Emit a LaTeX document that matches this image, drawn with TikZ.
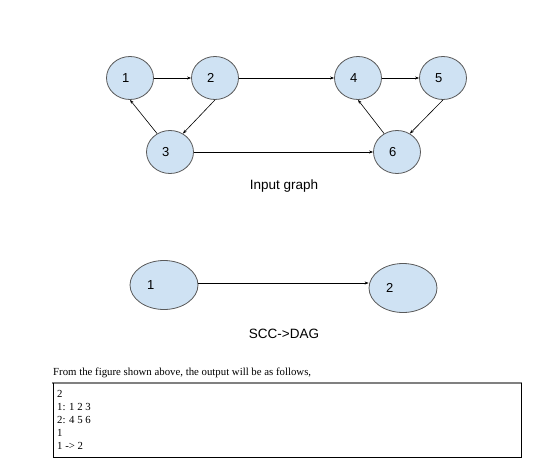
\documentclass[tikz,border=0pt]{standalone}
\usepackage{fontspec}
\setmainfont{Liberation Serif}
\setsansfont{Liberation Sans}
\usetikzlibrary{shapes.geometric,arrows.meta}
\definecolor{vertfill}{HTML}{CFE2F3}
\definecolor{vertline}{HTML}{595959}
\tikzset{
  vert/.style={ellipse, draw=vertline, fill=vertfill, line width=0.8pt, inner sep=0pt,
    minimum width=47pt, minimum height=43pt, text width=16pt, align=left,
    font=\sffamily\fontsize{13}{15}\selectfont},
  bigvert/.style={vert, minimum width=68pt, minimum height=49pt, text width=34pt},
  edge/.style={line width=0.6pt, -{Stealth[length=4pt,width=3pt]}},
  caption/.style={font=\sffamily\fontsize{13.5}{16}\selectfont}
}
\begin{document}
\begin{tikzpicture}[x=1pt, y=-1pt]
    \useasboundingbox (0,0) rectangle (560,474);
    % input graph
    \node[vert] (v1) at (130,78) {1};
    \node[vert] (v2) at (215,78) {2};
    \node[vert] (v3) at (170,152) {3};
    \node[vert] (v4) at (358,78) {4};
    \node[vert] (v5) at (443,78) {5};
    \node[vert] (v6) at (397,152) {6};
    \draw[edge] (v1) -- (v2);
    \draw[edge] (v2) -- (v4);
    \draw[edge] (v4) -- (v5);
    \draw[edge] (v3) -- (v6);
    \draw[edge] (v2.south) -- (v3.55);
    \draw[edge] (v3.125) -- (v1.south);
    \draw[edge] (v5.south) -- (v6.55);
    \draw[edge] (v6.125) -- (v4.south);
    \node[caption] (incap) at (284,186) {Input graph};
    % condensed graph
    \node[bigvert] (c1) at (164,285) {1};
    \node[bigvert] (c2) at (403,288) {2};
    \draw[edge] (c1.east |- 0,283) -- (c2.west |- 0,283);
    \node[caption] (dagcap) at (284,334) {SCC->DAG};
    % output
    \node[anchor=base west, inner sep=0pt, font=\fontsize{10.8}{13}\selectfont] (intro) at (53,375)
      {From the figure shown above, the output will be as follows,};
    \draw[gray, line width=2pt] (52,383) -- (522,383);
    \draw[line width=1pt] (53,383) -- (53,457) -- (521,457) -- (521,383);
    \node[anchor=north west, inner sep=0pt, align=left, font=\fontsize{10.8}{13}\selectfont] (out) at (57,390)
      {2\\1: 1 2 3\\2: 4 5 6\\1\\1 -> 2};
  \end{tikzpicture}
\end{document}
